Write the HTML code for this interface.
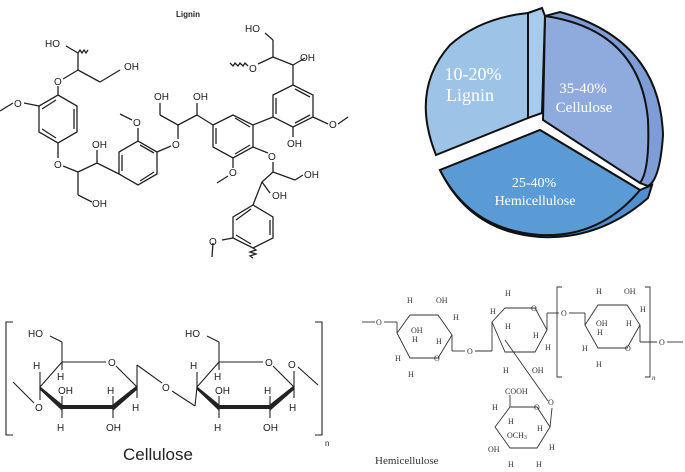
<!DOCTYPE html>
<html><head><meta charset="utf-8"><style>
html,body{margin:0;padding:0;background:#fff;width:685px;height:472px;overflow:hidden}
svg{display:block}
.s{font-family:"Liberation Sans",sans-serif;font-size:10px;fill:#222}
.t{font-family:"Liberation Serif",serif;font-size:8px;fill:#333}
</style></head><body>
<svg width="685" height="472" viewBox="0 0 685 472" xmlns="http://www.w3.org/2000/svg">
<g stroke="#222" stroke-width="1.3" fill="none">
<!-- Lignin -->
<polygon points="58,95 77,106 77,132 58,143 39,132 39,106"/>
<line x1="74" y1="109" x2="74" y2="129"/><line x1="42" y1="129" x2="56" y2="138"/><line x1="42" y1="109" x2="56" y2="100"/>
<line x1="58" y1="95" x2="58" y2="86"/><line x1="39" y1="106" x2="24" y2="103"/><line x1="13" y1="103" x2="0" y2="111"/>
<line x1="63" y1="79" x2="78" y2="70"/><line x1="78" y1="70" x2="78" y2="53"/><line x1="78" y1="53" x2="66" y2="46"/>
<path d="M78,53 l2,-3 l2,3 l2,-3 l2,3 l2,-3"/>
<line x1="78" y1="70" x2="100" y2="82"/><line x1="100" y1="82" x2="120" y2="70"/>
<line x1="58" y1="143" x2="58" y2="158"/><line x1="63" y1="166" x2="78" y2="172"/>
<line x1="78" y1="172" x2="97" y2="163"/><line x1="97" y1="163" x2="97" y2="150"/><line x1="97" y1="163" x2="119" y2="174"/>
<line x1="78" y1="172" x2="78" y2="195"/><line x1="78" y1="195" x2="92" y2="202"/>
<polygon points="119,152 119,174 138,185 157,174 157,152 138,141"/>
<line x1="122" y1="155" x2="122" y2="171"/><line x1="140" y1="181" x2="154" y2="172"/><line x1="140" y1="145" x2="154" y2="153"/>
<line x1="138" y1="141" x2="138" y2="128"/><line x1="132" y1="120" x2="120" y2="114"/>
<line x1="157" y1="152" x2="171" y2="146"/><line x1="178" y1="139" x2="178" y2="125"/>
<line x1="178" y1="125" x2="160" y2="115"/><line x1="160" y1="115" x2="160" y2="103"/>
<line x1="178" y1="125" x2="197" y2="115"/><line x1="197" y1="115" x2="197" y2="103"/><line x1="197" y1="115" x2="213" y2="125"/>
<polygon points="213,125 233,115 253,125 253,147 233,158 213,147"/>
<line x1="216" y1="128" x2="216" y2="144"/><line x1="235" y1="118" x2="250" y2="127"/><line x1="235" y1="154" x2="250" y2="145"/>
<line x1="233" y1="158" x2="233" y2="168"/><line x1="228" y1="176" x2="217" y2="183"/>
<line x1="253" y1="147" x2="268" y2="153"/><line x1="273" y1="162" x2="273" y2="172"/>
<line x1="273" y1="172" x2="295" y2="180"/><line x1="295" y1="180" x2="303" y2="175"/>
<line x1="273" y1="172" x2="262" y2="182"/><line x1="262" y1="182" x2="270" y2="193"/><line x1="262" y1="182" x2="253" y2="205"/>
<polygon points="253,205 273,217 273,238 253,248 233,238 233,217"/>
<line x1="270" y1="220" x2="270" y2="235"/><line x1="236" y1="220" x2="251" y2="209"/><line x1="236" y1="235" x2="251" y2="244"/>
<line x1="233" y1="238" x2="222" y2="240"/><line x1="213" y1="243" x2="212" y2="257"/>
<path d="M253,248 l3,2 l-6,2 l6,2 l-6,2 l3,2"/>
<line x1="253" y1="125" x2="273" y2="117"/>
<polygon points="273,95 293,85 313,95 313,117 293,127 273,117"/>
<line x1="276" y1="98" x2="276" y2="114"/><line x1="295" y1="89" x2="310" y2="97"/><line x1="295" y1="123" x2="310" y2="115"/>
<line x1="293" y1="127" x2="293" y2="137"/><line x1="313" y1="117" x2="328" y2="124"/><line x1="338" y1="124" x2="348" y2="117"/>
<line x1="293" y1="85" x2="293" y2="65"/><line x1="293" y1="65" x2="305" y2="58"/><line x1="293" y1="65" x2="273" y2="57"/>
<line x1="273" y1="57" x2="273" y2="40"/><line x1="273" y1="40" x2="265" y2="33"/><line x1="273" y1="57" x2="258" y2="64"/>
<path d="M248,66 l-3,-3 l-2,3 l-3,-3 l-2,3 l-3,-3 l-2,3 l-3,-3"/>
</g>
<g class="s" font-size="9">
<text x="176" y="17" font-weight="bold" font-size="8">Lignin</text>
<text x="45" y="47">HO</text><text x="124" y="70">OH</text><text x="54" y="85">O</text>
<text x="14" y="107">O</text><text x="54" y="168">O</text><text x="92" y="148">OH</text><text x="92" y="207">OH</text>
<text x="133" y="126">O</text><text x="172" y="148">O</text><text x="154" y="100">OH</text><text x="193" y="100">OH</text>
<text x="229" y="176">O</text><text x="268" y="160">O</text><text x="304" y="178">OH</text><text x="272" y="199">OH</text>
<text x="209" y="245">O</text><text x="287" y="147">OH</text><text x="329" y="128">O</text><text x="300" y="61">OH</text>
<text x="245" y="32">HO</text><text x="249" y="72">O</text>
</g>
<!-- Pie -->
<g stroke="#111" stroke-width="2">
<path d="M545,16 L560,12 Q660,40 663,135 Q660,180 648,186 L640,183 Z" fill="#7e9dd6"/>
<path d="M545,16 Q640,30 648,120 Q650,170 640,183 L543,120 Z" fill="#8faadc"/>
<path d="M528,13 L542,8 L545,16 L542,113 L528,118 Z" fill="#a9cbeb"/>
<path d="M528,13 L528,118 L436,155 Q410,90 450,45 Q480,18 528,13 Z" fill="#9dc3e6"/>
<path d="M440,170 L540,130 L640,190 L652,185 L648,198 Q600,240 540,237 Q470,232 440,170 Z" fill="#4f8fcf"/>
<path d="M440,170 L540,130 L640,190 Q600,238 540,235 Q470,230 440,170 Z" fill="#5b9bd5"/>
</g>
<g font-family="'Liberation Serif',serif" fill="#fff" text-anchor="middle">
<text x="473" y="80" font-size="18">10-20%</text><text x="470" y="101" font-size="18">Lignin</text>
<text x="583" y="93" font-size="15">35-40%</text><text x="584" y="112" font-size="15">Cellulose</text>
<text x="534" y="187" font-size="14">25-40%</text><text x="535" y="205" font-size="14">Hemicellulose</text>
</g>
<!-- Cellulose -->
<g stroke="#222" stroke-width="1.1" fill="none">
<path d="M13,322 H6 V435 H13"/><path d="M315,322 H322 V435 H315"/>
<g id="r1">
<line x1="62" y1="362" x2="106" y2="362"/><line x1="116" y1="366" x2="137" y2="387"/>
<line x1="62" y1="362" x2="40" y2="387"/><line x1="137" y1="387" x2="137" y2="398"/>
<line x1="62" y1="362" x2="62" y2="342"/><line x1="62" y1="342" x2="50" y2="336"/>
<line x1="62" y1="362" x2="62" y2="370"/><line x1="40" y1="387" x2="40" y2="372"/>
<line x1="62" y1="407" x2="62" y2="418"/><line x1="113" y1="407" x2="113" y2="418"/><line x1="62" y1="407" x2="62" y2="396"/><line x1="113" y1="407" x2="113" y2="396"/>
<polygon points="40,387 62,405 62,410 40,389" fill="#222"/>
<polygon points="113,405 137,386 137,389 113,410" fill="#222"/>
<rect x="62" y="405" width="51" height="4" fill="#222" stroke="none"/>
</g>
<use href="#r1" x="157"/>
<line x1="40" y1="387" x2="40" y2="400"/><line x1="34" y1="403" x2="13" y2="382"/>
<line x1="137" y1="387" x2="137" y2="365"/><line x1="137" y1="365" x2="162" y2="383"/>
<line x1="172" y1="391" x2="195" y2="406"/><line x1="195" y1="406" x2="197" y2="387"/>
<line x1="294" y1="371" x2="294" y2="387"/><line x1="298" y1="367" x2="318" y2="385"/>
</g>
<g class="s">
<text x="28" y="337">HO</text><text x="33" y="369">H</text><text x="57" y="380">H</text><text x="58" y="394">OH</text>
<text x="107" y="394">H</text><text x="108" y="366">O</text><text x="132" y="411">H</text><text x="57" y="431">H</text><text x="106" y="431">OH</text>
<text x="35" y="411">O</text><text x="162" y="391">O</text>
<text x="185" y="337">HO</text><text x="190" y="369">H</text><text x="214" y="380">H</text><text x="215" y="394">OH</text>
<text x="264" y="394">H</text><text x="265" y="366">O</text><text x="289" y="411">H</text><text x="214" y="431">H</text><text x="263" y="431">OH</text>
<text x="288" y="368">O</text><text x="325" y="446" font-size="8">n</text>
<text x="123" y="460" font-size="17">Cellulose</text>
</g>
<!-- Hemicellulose -->
<g stroke="#333" stroke-width="0.9" fill="none">
<polygon points="397,333 410,315 438,315 452,335 438,358 410,358"/>
<line x1="362" y1="322" x2="375" y2="322"/><line x1="384" y1="322" x2="397" y2="322"/><line x1="397" y1="322" x2="397" y2="333"/>
<line x1="452" y1="335" x2="452" y2="351"/><line x1="452" y1="351" x2="465" y2="351"/><line x1="475" y1="351" x2="492" y2="351"/><line x1="492" y1="351" x2="492" y2="322"/>
<polygon points="492,322 505,308 535,308 547,330 535,352 505,352"/>
<line x1="547" y1="330" x2="547" y2="313"/><line x1="547" y1="313" x2="559" y2="313"/><line x1="569" y1="313" x2="585" y2="313"/><line x1="585" y1="313" x2="585" y2="325"/>
<path d="M562,287 H557 V377 H562"/><path d="M645,287 H650 V377 H645"/>
<polygon points="585,325 598,305 627,305 640,325 627,348 598,348"/>
<line x1="640" y1="325" x2="640" y2="342"/><line x1="640" y1="342" x2="657" y2="342"/><line x1="667" y1="342" x2="683" y2="342"/>
<line x1="505" y1="340" x2="548" y2="401"/>
<polygon points="495,427 510,407 537,407 550,427 537,448 510,448"/>
<line x1="552" y1="408" x2="550" y2="427"/>
<line x1="510" y1="407" x2="510" y2="395"/>
</g>
<g class="t">
<text x="376" y="325">O</text><text x="407" y="303">H</text><text x="436" y="303">OH</text><text x="411" y="333">OH</text><text x="412" y="342">H</text>
<text x="436" y="344">H</text><text x="453" y="320">H</text><text x="395" y="361">H</text><text x="434" y="361">O</text><text x="408" y="377">H</text>
<text x="467" y="354">O</text><text x="505" y="296">H</text><text x="490" y="314">H</text><text x="505" y="329">H</text><text x="531" y="311">O</text>
<text x="533" y="338">H</text><text x="545" y="350">H</text><text x="503" y="373">H</text><text x="532" y="373">OH</text>
<text x="561" y="316">O</text><text x="596" y="294">H</text><text x="624" y="294">OH</text><text x="596" y="326">OH</text><text x="626" y="326">H</text>
<text x="597" y="335">H</text><text x="640" y="312">H</text><text x="582" y="351">H</text><text x="625" y="351">O</text><text x="596" y="367">H</text>
<text x="659" y="345">O</text><text x="652" y="380" font-size="7" font-style="italic">n</text>
<text x="505" y="394">COOH</text><text x="548" y="405">O</text><text x="534" y="410">O</text><text x="492" y="410">H</text><text x="508" y="424">H</text>
<text x="537" y="431">H</text><text x="507" y="438">OCH<tspan font-size="6" dy="1">3</tspan></text><text x="488" y="452">OH</text><text x="549" y="450">H</text>
<text x="508" y="467">H</text><text x="536" y="467">H</text>
<text x="375" y="464" font-size="11">Hemicellulose</text>
</g>
</svg>
</body></html>
